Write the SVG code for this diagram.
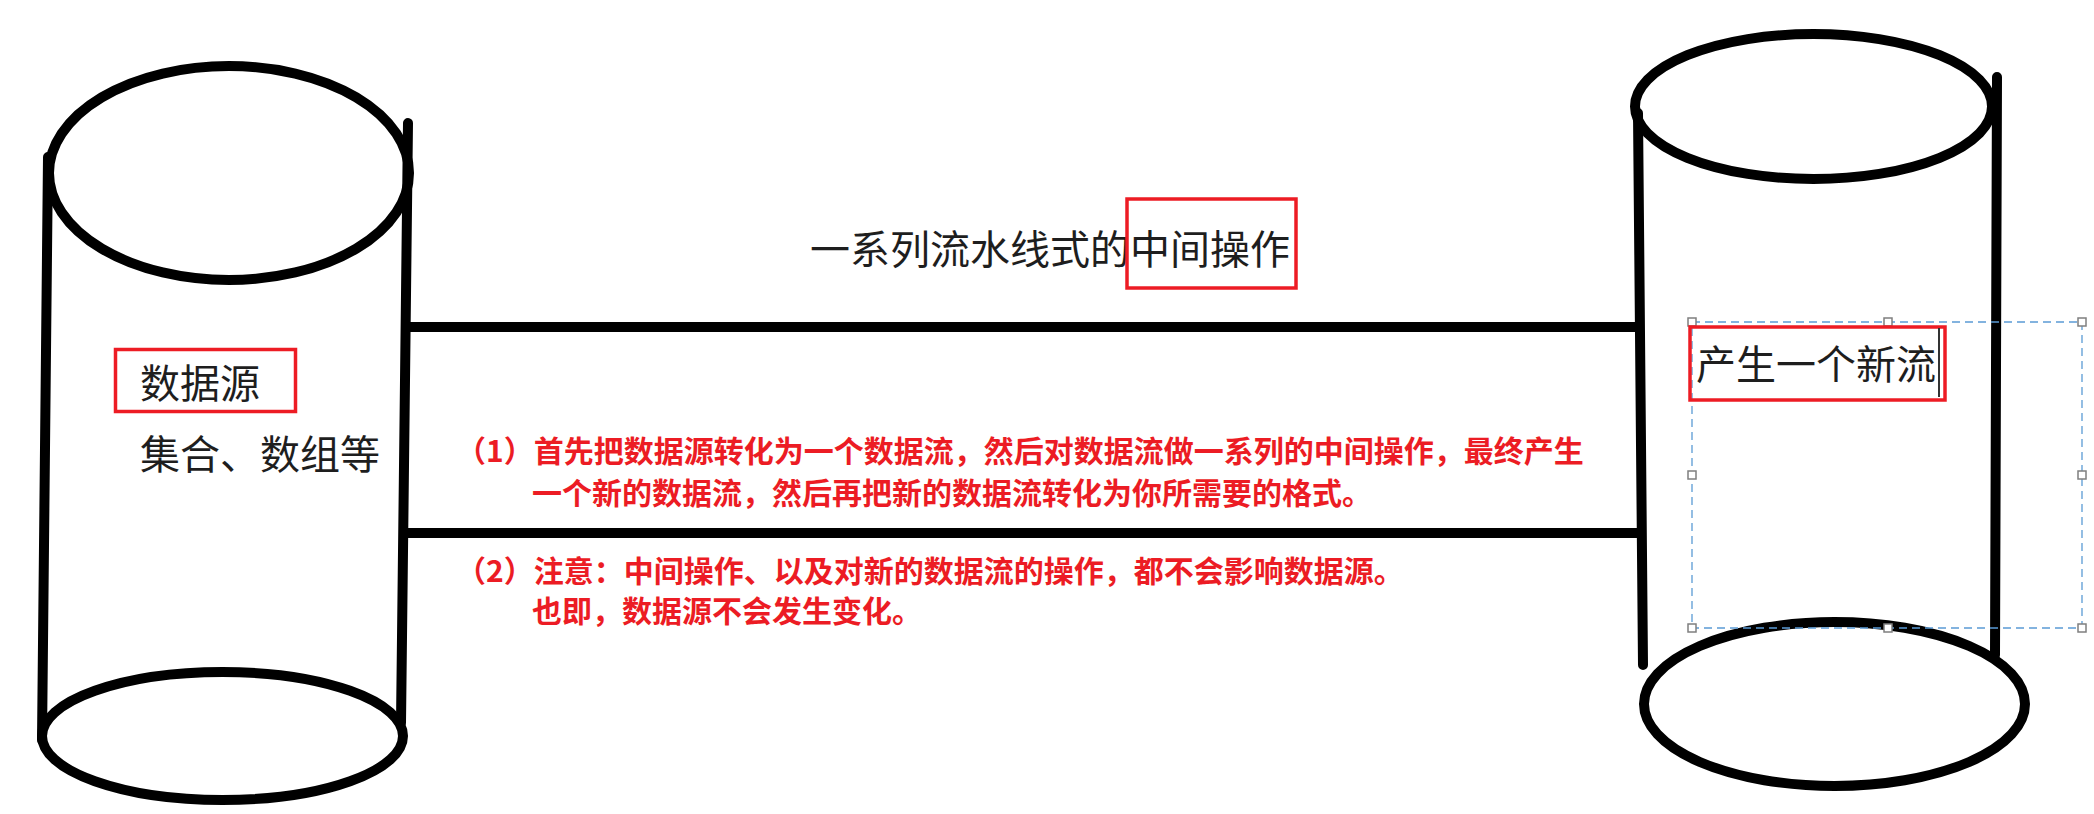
<svg xmlns="http://www.w3.org/2000/svg" width="2094" height="814" viewBox="0 0 2094 814">
<style>
.shape{fill:none;stroke:#000;stroke-width:10;stroke-linecap:round}
.conn{fill:none;stroke:#000;stroke-width:10}
.hl{fill:none;stroke:#ed1c24;stroke-width:3.5}
.lbl{font-family:"Noto Sans CJK SC","Noto Sans",sans-serif;font-size:40px;fill:#1e1e1e}
.note{font-family:"Noto Sans CJK SC","Noto Sans",sans-serif;font-size:30px;font-weight:bold;fill:#ec1c24}
.sel{fill:none;stroke:#5b9bd5;stroke-width:1.3;stroke-dasharray:8 5}
.hd{fill:#fff;stroke:#7f7f7f;stroke-width:1.5}
</style>
<rect width="2094" height="814" fill="#fff"/>
<g id="connectors">
<line class="conn" x1="405" y1="327" x2="1640" y2="327"/>
<line class="conn" x1="403" y1="533" x2="1642" y2="533"/>
</g>
<g id="source">
<ellipse class="shape" cx="229" cy="173" rx="180" ry="107"/>
<line class="shape" x1="48" y1="157" x2="42" y2="740"/>
<line class="shape" x1="408" y1="123" x2="401" y2="723"/>
<ellipse class="shape" cx="222.5" cy="736" rx="180.5" ry="64"/>
<rect class="hl" x="115.5" y="349.5" width="180" height="62"/>
<text class="lbl" x="140" y="398">数据源</text>
<text class="lbl" x="140" y="469">集合、数组等</text>
</g>
<g id="target">
<ellipse class="shape" cx="1813.5" cy="106.5" rx="178.5" ry="72.5"/>
<line class="shape" x1="1638" y1="113" x2="1643" y2="665"/>
<line class="shape" x1="1997" y1="77" x2="1995" y2="655"/>
<ellipse class="shape" cx="1834.5" cy="704" rx="190.5" ry="82"/>
<rect class="sel" x="1692" y="322" width="390" height="306"/>
<rect class="hd" x="1688" y="318" width="8" height="8"/>
<rect class="hd" x="1884" y="318" width="8" height="8"/>
<rect class="hd" x="2078" y="318" width="8" height="8"/>
<rect class="hd" x="1688" y="471" width="8" height="8"/>
<rect class="hd" x="2078" y="471" width="8" height="8"/>
<rect class="hd" x="1688" y="624" width="8" height="8"/>
<rect class="hd" x="1884" y="624" width="8" height="8"/>
<rect class="hd" x="2078" y="624" width="8" height="8"/>
<rect class="hl" x="1690" y="327" width="255" height="73"/>
<text class="lbl" x="1696" y="379">产生一个新流</text>
<line x1="1939" y1="328" x2="1939" y2="397" stroke="#333" stroke-width="2"/>
</g>
<g id="title">
<text class="lbl" x="810" y="264">一系列流水线式的中间操作</text>
<rect class="hl" x="1127" y="199" width="169" height="89" stroke-width="4"/>
</g>
<g id="notes">
<text class="note" x="456" y="462">（1）首先把数据源转化为一个数据流，然后对数据流做一系列的中间操作，最终产生</text>
<text class="note" x="532" y="504">一个新的数据流，然后再把新的数据流转化为你所需要的格式。</text>
<text class="note" x="456" y="582">（2）注意：中间操作、以及对新的数据流的操作，都不会影响数据源。</text>
<text class="note" x="532" y="622">也即，数据源不会发生变化。</text>
</g>
</svg>
